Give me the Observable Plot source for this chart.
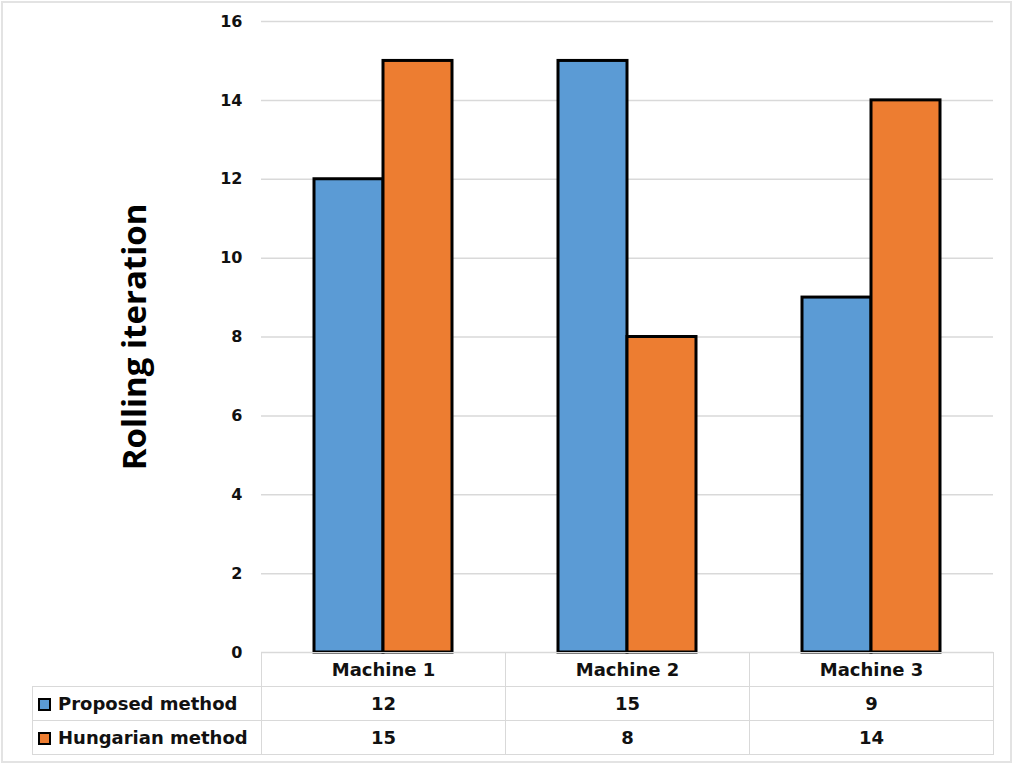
<!DOCTYPE html>
<html>
<head>
<meta charset="utf-8">
<script src="https://cdn.jsdelivr.net/npm/d3@7"></script>
<script src="https://cdn.jsdelivr.net/npm/@observablehq/plot@0.6"></script>
<style>
  body { margin: 0; background: #fff; font-family: "DejaVu Sans", sans-serif; }
  #wrap { position: relative; width: 1015px; height: 766px; overflow: hidden; background: #fff; }
  #border { position: absolute; left: 1px; top: 1px; width: 1007px; height: 758px; border: 2px solid #e3e3e3; pointer-events: none; }
  #chart { position: absolute; left: 0; top: 0; }
  #tbl { position: absolute; top: 652px; border-collapse: collapse; table-layout: fixed;
         font-family: "DejaVu Sans", sans-serif; font-weight: bold; font-size: 18px; color: #111; }
  #tbl td { border: 1.5px solid #d9d9d9; padding: 0; height: 33px; text-align: center; white-space: nowrap; overflow: hidden; }
  #tbl td.blank { border-top: none; border-left: none; }
  #tbl td.lab { text-align: left; padding-left: 5px; }
  .key { display: inline-block; width: 9px; height: 9px; border: 2.5px solid #000; margin-right: 7px; vertical-align: -1px; }
</style>
</head>
<body>
<div id="wrap">
  <div id="chart"></div>
  <div id="border"></div>
</div>
<script>
const machines = ["Machine 1", "Machine 2", "Machine 3"];
const seriesNames = ["Proposed method", "Hungarian method"];
const proposed = [12, 15, 9];
const hungarian = [15, 8, 14];
const yTicks = [0, 2, 4, 6, 8, 10, 12, 14, 16];
const colors = ["#5B9BD5", "#ED7D31"];
const yTitle = "Rolling iteration";

const seriesValues = [proposed, hungarian];
const rows = machines.flatMap((m, i) =>
  seriesNames.map((s, j) => ({ machine: m, series: s, value: seriesValues[j][i] }))
);

const chart = Plot.plot({
  width: 1015,
  height: 653,
  marginLeft: 260,
  marginRight: 22,
  marginTop: 21,
  marginBottom: 1,
  style: { fontFamily: "DejaVu Sans", background: "transparent", overflow: "visible", color: "#111" },
  fx: { domain: machines, padding: 0, axis: null },
  x: { domain: seriesNames, paddingInner: 0, paddingOuter: 0.755, axis: null },
  y: { domain: [0, 16] },
  color: { domain: seriesNames, range: colors },
  marks: [
    Plot.gridY(yTicks, { stroke: "#d9d9d9", strokeOpacity: 1, strokeWidth: 1.5 }),
    Plot.axisY(yTicks, { tickSize: 0, tickPadding: 19, fontSize: 16, fontWeight: "bold", label: null }),
    Plot.barY(rows, { fx: "machine", x: "series", y: "value", fill: "series", stroke: "#000", strokeWidth: 3 }),
    Plot.text([{ machine: machines[0], t: yTitle }], {
      fx: "machine", text: "t", frameAnchor: "left", textAnchor: "middle", rotate: -90, dx: -126,
      fontSize: 33, fontWeight: "bold", fill: "#000", fontFamily: "Open Sans"
    })
  ]
});
document.getElementById("chart").appendChild(chart);

// Data table below the chart, aligned with the fx scale
const fx = chart.scale("fx");
const tableLeft = 32;
const firstW = fx.apply(machines[0]) - tableLeft;
const colW = fx.bandwidth;
const tbl = document.createElement("table");
tbl.id = "tbl";
tbl.style.left = tableLeft + "px";
tbl.style.width = (firstW + colW * machines.length) + "px";
let html = `<colgroup><col style="width:${firstW}px">` +
  machines.map(() => `<col style="width:${colW}px">`).join("") + `</colgroup>`;
html += `<tr><td class="blank"></td>` + machines.map(m => `<td>${m}</td>`).join("") + `</tr>`;
seriesNames.forEach((s, j) => {
  html += `<tr><td class="lab"><span class="key" style="background:${colors[j]}"></span>${s}</td>` +
    seriesValues[j].map(v => `<td>${v}</td>`).join("") + `</tr>`;
});
tbl.innerHTML = html;
document.getElementById("wrap").appendChild(tbl);
</script>
</body>
</html>
